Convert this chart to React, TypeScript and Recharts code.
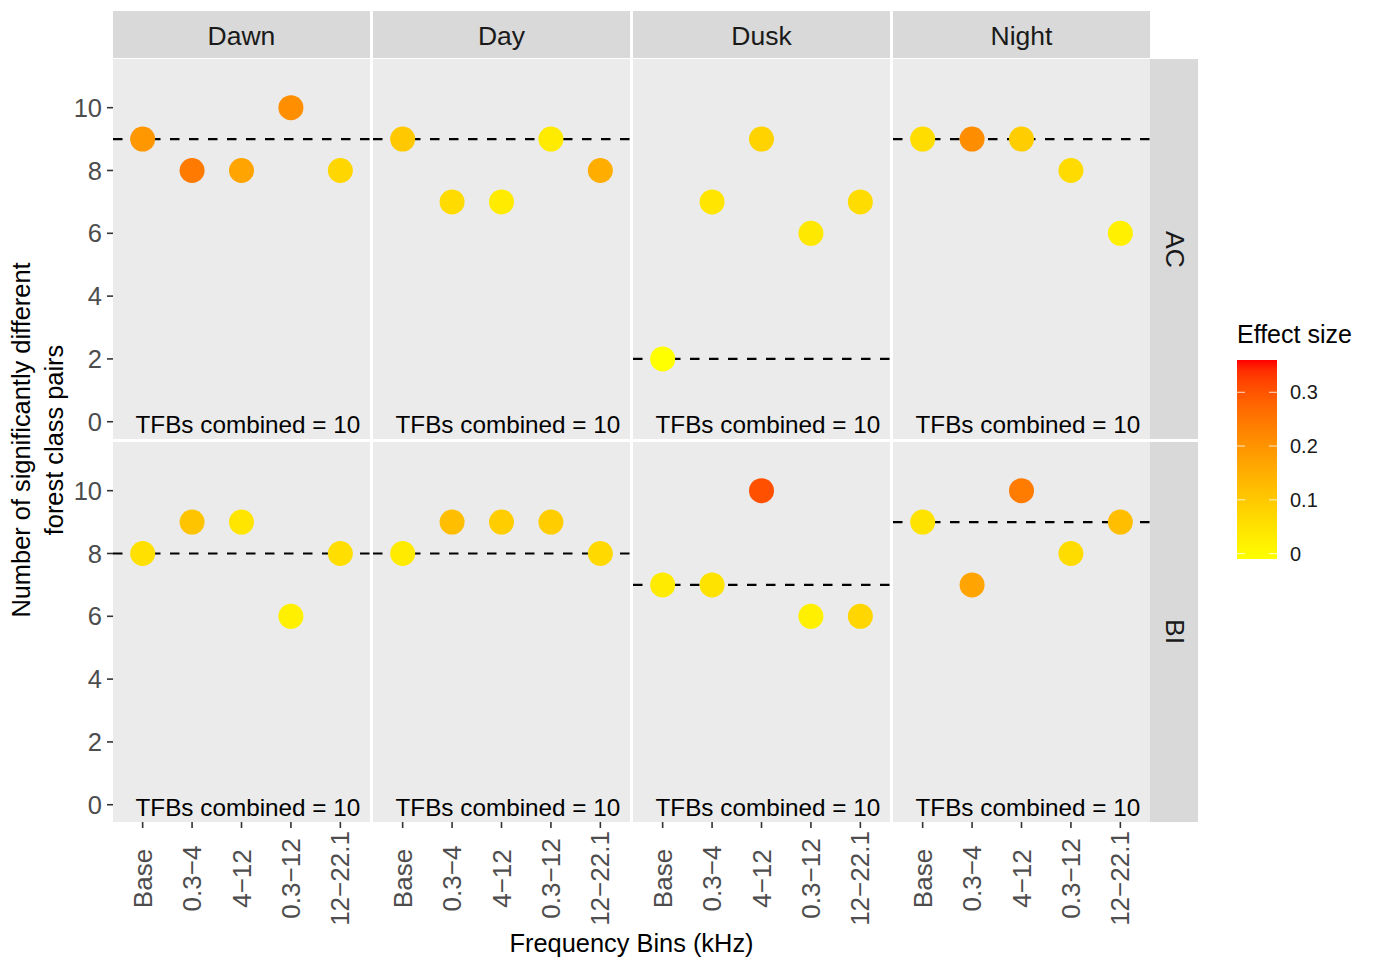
import React from "react";
import {
  ScatterChart,
  Scatter,
  XAxis,
  YAxis,
  ReferenceLine,
  ReferenceDot,
} from "recharts";

const times = ["Dawn", "Day", "Dusk", "Night"];
const indices = ["AC", "BI"];
const bins = ["Base", "0.3−4", "4−12", "0.3−12", "12−22.1"];
const yTicks = [0, 2, 4, 6, 8, 10];
const legendTicks = [0, 0.1, 0.2, 0.3];

// significant pairs per frequency bin, one row per time of day
const acCounts = [
  [9, 8, 8, 10, 8],
  [9, 7, 7, 9, 8],
  [2, 7, 9, 6, 7],
  [9, 9, 9, 8, 6],
];
const acEffects = [
  [0.194, 0.244, 0.17, 0.21, 0.074],
  [0.1, 0.064, 0.03, 0.03, 0.152],
  [-0.01, 0.042, 0.08, 0.036, 0.062],
  [0.06, 0.213, 0.092, 0.064, 0.02],
];
const biCounts = [
  [8, 9, 9, 6, 8],
  [8, 9, 9, 9, 8],
  [7, 7, 10, 6, 6],
  [9, 7, 10, 8, 9],
];
const biEffects = [
  [0.052, 0.108, 0.042, 0.02, 0.058],
  [0.03, 0.12, 0.092, 0.092, 0.068],
  [0.03, 0.046, 0.306, 0.02, 0.074],
  [0.046, 0.17, 0.242, 0.062, 0.12],
];
// all TFBs combined (dashed line) and its label
const acCombined = [9, 9, 2, 9];
const biCombined = [8, 8, 7, 9];
const tfbTotals = [10, 10, 10, 10];

const EFFECT_MIN = -0.01;
const EFFECT_MAX = 0.36;

const FONT = "'Liberation Sans', Arial, sans-serif";
const PANEL_W = 257;
const PANEL_H = 380;
const colLeft = (c: number) => 113 + c * 260;
const rowTop = (r: number) => 59 + r * 383;

// yellow -> red in CIELAB, like scale_colour_gradient
const toLin = (c: number) => {
  const v = c / 255;
  return v <= 0.04045 ? v / 12.92 : Math.pow((v + 0.055) / 1.055, 2.4);
};
const fromLin = (c: number) => {
  const v = c <= 0.0031308 ? 12.92 * c : 1.055 * Math.pow(c, 1 / 2.4) - 0.055;
  return Math.round(Math.max(0, Math.min(1, v)) * 255);
};
const rgbToLab = ([r, g, b]: number[]) => {
  const R = toLin(r), G = toLin(g), B = toLin(b);
  const X = (0.4124 * R + 0.3576 * G + 0.1805 * B) / 0.95047;
  const Y = 0.2126 * R + 0.7152 * G + 0.0722 * B;
  const Z = (0.0193 * R + 0.1192 * G + 0.9505 * B) / 1.08883;
  const f = (t: number) => (t > 0.008856 ? Math.cbrt(t) : 7.787 * t + 16 / 116);
  const fx = f(X), fy = f(Y), fz = f(Z);
  return [116 * fy - 16, 500 * (fx - fy), 200 * (fy - fz)];
};
const labToHex = ([L, a, b]: number[]) => {
  const fy = (L + 16) / 116;
  const fx = fy + a / 500;
  const fz = fy - b / 200;
  const inv = (f: number) => (f ** 3 > 0.008856 ? f ** 3 : (f - 16 / 116) / 7.787);
  const X = 0.95047 * inv(fx), Y = inv(fy), Z = 1.08883 * inv(fz);
  const R = fromLin(3.2406 * X - 1.5372 * Y - 0.4986 * Z);
  const G = fromLin(-0.9689 * X + 1.8758 * Y + 0.0415 * Z);
  const B = fromLin(0.0557 * X - 0.204 * Y + 1.057 * Z);
  return "#" + [R, G, B].map((v) => v.toString(16).padStart(2, "0")).join("");
};
const LOW = rgbToLab([255, 255, 0]);
const HIGH = rgbToLab([255, 0, 0]);
const effectColor = (v: number) => {
  const t = Math.max(0, Math.min(1, (v - EFFECT_MIN) / (EFFECT_MAX - EFFECT_MIN)));
  return labToHex(LOW.map((l, i) => l + (HIGH[i] - l) * t));
};

const counts = [acCounts, biCounts];
const effects = [acEffects, biEffects];
const combined = [acCombined, biCombined];

// rotated labels, centred below the tick
const BinTick = (props: any) => {
  const { x, y, payload } = props;
  const cy = y + 46.5;
  return (
    <text
      x={x}
      y={cy}
      transform={`rotate(-90, ${x}, ${cy})`}
      textAnchor="middle"
      dominantBaseline="central"
      fill="#4D4D4D"
      fontSize={26}
      fontFamily={FONT}
    >
      {bins[payload.value - 1]}
    </text>
  );
};

function Panel({ r, c }: { r: number; c: number }) {
  const yW = c === 0 ? 60 : 0;
  const xH = r === 1 ? 140 : 0;
  const data = bins.map((b, i) => ({
    x: i + 1,
    y: counts[r][c][i],
    effect: effects[r][c][i],
  }));
  return (
    <div
      style={{
        position: "absolute",
        left: colLeft(c) - yW,
        top: rowTop(r),
      }}
    >
      <ScatterChart
        width={PANEL_W + yW}
        height={PANEL_H + xH}
        margin={{ top: 0, right: 0, bottom: 0, left: 0 }}
      >
        <XAxis
          type="number"
          dataKey="x"
          domain={[0.4, 5.6]}
          ticks={[1, 2, 3, 4, 5]}
          allowDataOverflow
          hide={r === 0}
          height={xH}
          axisLine={false}
          tickSize={6}
          tickMargin={4}
          tickLine={{ stroke: "#333333", strokeWidth: 1.6 }}
          tick={BinTick}
        />
        <YAxis
          type="number"
          dataKey="y"
          domain={[-0.55, 11.55]}
          ticks={yTicks}
          allowDataOverflow
          hide={c !== 0}
          width={yW}
          axisLine={false}
          tickSize={6}
          tickMargin={5}
          tickLine={{ stroke: "#333333", strokeWidth: 1.6 }}
          tick={{ fill: "#4D4D4D", fontSize: 25.5, fontFamily: FONT }}
        />
        <ReferenceLine
          y={combined[r][c]}
          stroke="#000"
          strokeWidth={2.2}
          strokeDasharray="9.5 9.5"
        />
        <Scatter
          data={data}
          isAnimationActive={false}
          shape={(p: any) => (
            <circle cx={p.cx} cy={p.cy} r={12.5} fill={effectColor(p.payload.effect)} />
          )}
        />
        <ReferenceDot
          x={3.13}
          y={-0.1}
          r={0}
          fill="none"
          stroke="none"
          label={{
            value: `TFBs combined = ${tfbTotals[c]}`,
            position: "center",
            fill: "#000",
            fontSize: 24.3,
            fontFamily: FONT,
          }}
        />
      </ScatterChart>
    </div>
  );
}

function EffectLegend() {
  const barTop = 360;
  const barBottom = 559;
  const yOf = (v: number) =>
    barBottom - ((v - EFFECT_MIN) / (EFFECT_MAX - EFFECT_MIN)) * (barBottom - barTop);
  const stops = Array.from({ length: 21 }, (_, i) => i / 20);
  return (
    <svg
      width={1381}
      height={970}
      style={{ position: "absolute", left: 0, top: 0, pointerEvents: "none" }}
    >
      <defs>
        <linearGradient id="effGrad" x1="0" y1="1" x2="0" y2="0">
          {stops.map((s) => (
            <stop
              key={s}
              offset={s}
              stopColor={effectColor(EFFECT_MIN + s * (EFFECT_MAX - EFFECT_MIN))}
            />
          ))}
        </linearGradient>
      </defs>
      <text x={1237} y={343} fontSize={25} fontFamily={FONT} fill="#000">
        Effect size
      </text>
      <rect x={1237} y={barTop} width={40} height={barBottom - barTop} fill="url(#effGrad)" />
      {legendTicks.map((t) => (
        <g key={t}>
          <line x1={1237} x2={1245} y1={yOf(t)} y2={yOf(t)} stroke="#fff" strokeOpacity={0.8} />
          <line x1={1269} x2={1277} y1={yOf(t)} y2={yOf(t)} stroke="#fff" strokeOpacity={0.8} />
          <text
            x={1290}
            y={yOf(t)}
            dominantBaseline="central"
            fontSize={20}
            fontFamily={FONT}
            fill="#1A1A1A"
          >
            {t}
          </text>
        </g>
      ))}
    </svg>
  );
}

export default function App() {
  return (
    <div
      style={{
        position: "absolute",
        left: 0,
        top: 0,
        width: 1381,
        height: 970,
        background: "#fff",
        fontFamily: FONT,
      }}
    >
      {/* panel backgrounds */}
      {indices.map((_, r) =>
        times.map((_, c) => (
          <div
            key={`bg-${r}-${c}`}
            style={{
              position: "absolute",
              left: colLeft(c),
              top: rowTop(r),
              width: PANEL_W,
              height: PANEL_H,
              background: "#EBEBEB",
            }}
          />
        ))
      )}
      {/* column strips */}
      {times.map((t, c) => (
        <div
          key={t}
          style={{
            position: "absolute",
            left: colLeft(c),
            top: 11,
            width: PANEL_W,
            height: 47,
            overflow: "hidden",
            background: "#D9D9D9",
            color: "#1A1A1A",
            fontSize: 26.5,
            lineHeight: "50px",
            textAlign: "center",
          }}
        >
          {t}
        </div>
      ))}
      {/* row strips */}
      {indices.map((ix, r) => (
        <div
          key={ix}
          style={{
            position: "absolute",
            left: 1150,
            top: rowTop(r),
            width: 48,
            height: PANEL_H,
            background: "#D9D9D9",
            color: "#1A1A1A",
            fontSize: 26.5,
            display: "flex",
            alignItems: "center",
            justifyContent: "center",
          }}
        >
          <span style={{ writingMode: "vertical-rl" }}>{ix}</span>
        </div>
      ))}
      {indices.map((_, r) => times.map((_, c) => <Panel key={`p-${r}-${c}`} r={r} c={c} />))}
      <div
        style={{
          position: "absolute",
          left: 38,
          top: 440,
          transform: "translate(-50%, -50%) rotate(-90deg)",
          whiteSpace: "nowrap",
          textAlign: "center",
          fontSize: 25.4,
          lineHeight: "33px",
          color: "#000",
        }}
      >
        Number of significantly different
        <br />
        forest class pairs
      </div>
      <div
        style={{
          position: "absolute",
          left: 631.5,
          top: 943,
          transform: "translate(-50%, -50%)",
          whiteSpace: "nowrap",
          fontSize: 25.4,
          color: "#000",
        }}
      >
        Frequency Bins (kHz)
      </div>
      <EffectLegend />
    </div>
  );
}
